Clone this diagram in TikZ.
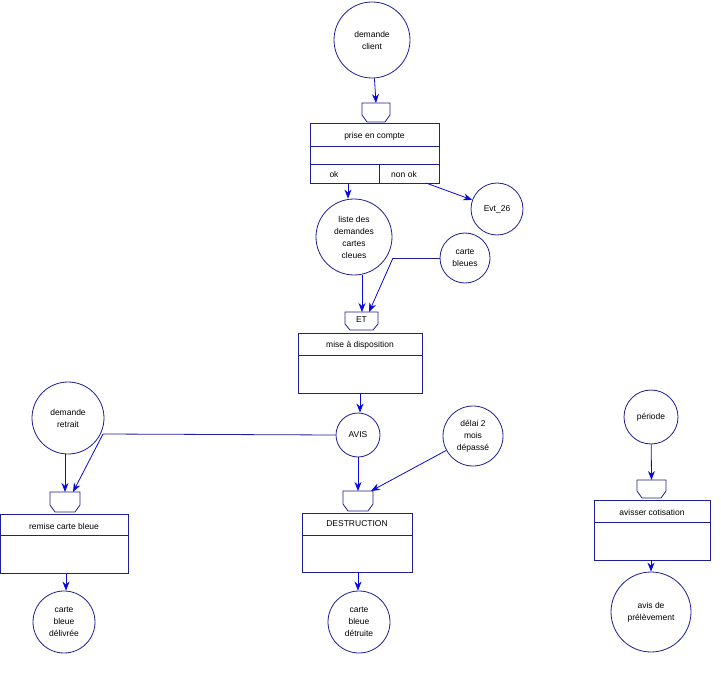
\documentclass[tikz,border=0pt]{standalone}
\usepackage{fontspec}
\setmainfont{Liberation Sans}
\usetikzlibrary{arrows.meta}
\definecolor{ln}{RGB}{30,30,150}
\definecolor{ar}{RGB}{10,10,220}
\begin{document}
\begin{tikzpicture}[x=1pt,y=-1pt,
 ev/.style={draw=ln,circle,thick,inner sep=0pt,align=center,font=\fontsize{8.5}{12}\selectfont},
 box/.style={draw=ln,thick},
 lbl/.style={font=\fontsize{8.5}{10}\selectfont,inner sep=1pt},
 arr/.style={draw=ar,thick,-{Stealth[length=9pt,width=7pt]}},
 con/.style={draw=ln,thick}]
\useasboundingbox[fill=white] (0,0) rectangle (721,674);
\newcommand{\syncbox}[5]{% name, x1,y1,x2,y2
 \draw[box] (#2,#3)--(#4,#3)--(#4,#5-7)--(#4-5,#5)--(#2+5,#5)--(#2,#5-7)--cycle;
 \coordinate (#1) at ({(#2+#4)/2},#3);}
% events
\node[ev,minimum size=76pt] (dc) at (372,40) {demande\\client};
\node[ev,minimum size=76pt] (liste) at (354,237) {liste des\\demandes\\cartes\\cleues};
\node[ev,minimum size=52pt] (evt) at (497,209) {Evt\_26};
\node[ev,minimum size=50pt] (cb) at (465,258) {carte\\bleues};
\node[ev,minimum size=44pt] (avis) at (358,435) {AVIS};
\node[ev,minimum size=72pt] (dr) at (68,418) {demande\\retrait};
\node[ev,minimum size=60pt] (delai) at (473,436) {délai 2\\mois\\dépassé};
\node[ev,minimum size=62pt] (cbd) at (64,622) {carte\\bleue\\délivrée};
\node[ev,minimum size=62pt] (cbt) at (359,622) {carte\\bleue\\détruite};
\node[ev,minimum size=54pt] (per) at (651,417) {période};
\node[ev,minimum size=80pt] (avp) at (651,612) {avis de\\prélèvement};
% prise en compte
\syncbox{s1}{362}{103}{390}{122}
\draw[box] (310,123) rectangle (439,183);
\draw[box] (310,146)--(439,146) (310,164)--(439,164) (379,164)--(379,183);
\node[lbl] (t1) at (374.5,136) {prise en compte};
\node[lbl] (ok) at (334,174) {ok};
\node[lbl] (nok) at (404,174) {non ok};
\coordinate (okb) at (348,183);
\coordinate (nokb) at (426,183);
% mise a disposition
\draw[box] (345,312)--(378,312)--(378,324)--(373,330)--(350,330)--(345,324)--cycle;
\node[lbl] (et) at (361.5,320) {ET};
\coordinate (s2) at (362,312);
\coordinate (s2b) at (369,312);
\draw[box] (298,333) rectangle (422,393);
\draw[box] (298,355)--(422,355);
\node[lbl] (t2) at (360,345) {mise à disposition};
\coordinate (mb) at (360,393);
% remise
\syncbox{s3}{50}{492}{80}{512}
\coordinate (s3b) at (73,492);
\draw[box] (0,514) rectangle (128,573);
\draw[box] (0,535)--(128,535);
\node[lbl] (t3) at (64,526) {remise carte bleue};
\coordinate (rb) at (66,573);
% destruction
\syncbox{s4}{343}{491}{373}{511}
\coordinate (s4b) at (371,491);
\draw[box] (302,513) rectangle (412,572);
\draw[box] (302,535)--(412,535);
\node[lbl] (t4) at (357,524) {DESTRUCTION};
\coordinate (db) at (358,572);
% avisser
\syncbox{s5}{637}{480}{666}{498}
\draw[box] (594,500) rectangle (710,560);
\draw[box] (594,522)--(710,522);
\node[lbl] (t5) at (652,512) {avisser cotisation};
\coordinate (ab) at (651,560);
% connectors
\draw[arr] (dc) -- (s1);
\draw[arr] (okb) -- (liste.north -| okb);
\draw[arr] (nokb) -- (evt);
\draw[arr] (liste.south -| s2) -- (s2);
\coordinate (k1) at (393,258);
\draw[con] (cb.west) -- (k1);
\draw[arr] (k1) -- (s2b);
\draw[arr] (mb) -- (avis.north -| mb);
\coordinate (k2) at (103,434);
\draw[con] (avis.west) -- (k2);
\draw[arr] (k2) -- (s3b);
\draw[arr] (dr.south -| s3) -- (s3);
\draw[arr] (rb) -- (cbd.north -| rb);
\draw[arr] (avis.south -| s4) -- (s4);
\draw[arr] (delai) -- (s4b);
\draw[arr] (db) -- (cbt.north -| db);
\draw[arr] (per) -- (s5);
\draw[arr] (ab) -- (avp);
\end{tikzpicture}
\end{document}
